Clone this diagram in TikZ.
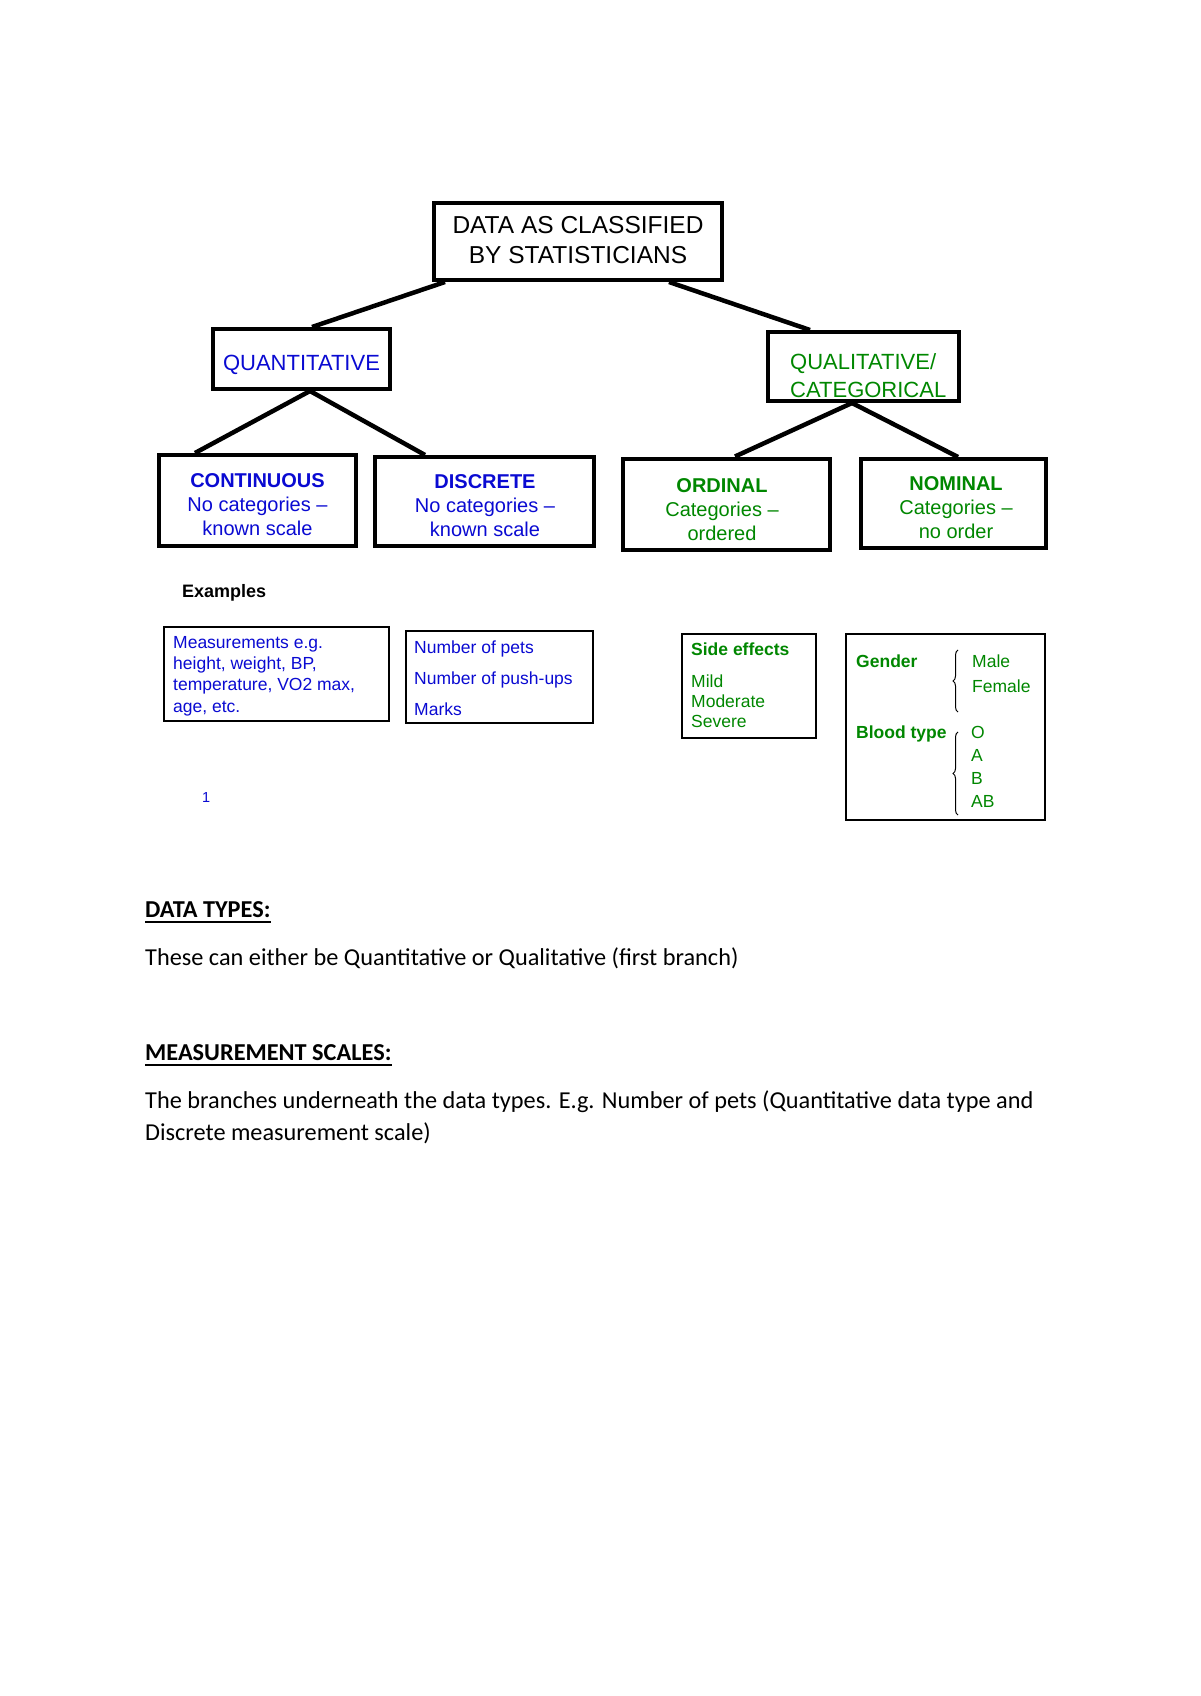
\documentclass[tikz,border=0pt]{standalone}
\usepackage{fontspec}
\setmainfont{Liberation Sans}
\newfontfamily\calibrifont{Carlito}
\usetikzlibrary{decorations.pathreplacing}
\definecolor{quantblue}{RGB}{10,10,210}
\definecolor{qualgreen}{RGB}{0,135,0}
\newcommand{\fsz}[2]{\fontsize{#1}{#2}\selectfont}

\begin{document}
\begin{tikzpicture}[x=1pt,y=-1pt,
  thickbox/.style={draw,line width=4pt,inner sep=0pt},
  thinbox/.style={draw,line width=1.3pt,inner sep=0pt},
  branch/.style={line width=4.5pt},
  txt/.style={inner sep=0pt,anchor=base,align=center},
  ltxt/.style={inner sep=0pt,anchor=base west,align=left}]
\useasboundingbox[fill=white] (0,0) rectangle (1200,1696);
% Top of the tree (multi-line texts sit on their last baseline)
\node[thickbox,minimum width=288pt,minimum height=77pt] (data) at (578,241.5) {};
\node[txt,font=\fsz{24.5}{31}] (datatxt) at (578,264) {DATA AS CLASSIFIED\\BY STATISTICIANS};
% Data types
\node[thickbox,minimum width=177pt,minimum height=60pt] (quant) at (301.5,359) {};
\node[txt,font=\fsz{22}{28},text=quantblue] (quanttxt) at (301.5,370) {QUANTITATIVE};
\node[thickbox,minimum width=191pt,minimum height=69pt] (qual) at (863.5,366.5) {};
\node[ltxt,font=\fsz{22}{28},text=qualgreen] (qualtxt) at (790,397) {QUALITATIVE/\\CATEGORICAL};
% Measurement scales
\node[thickbox,minimum width=197pt,minimum height=91pt] (cont) at (257.5,500.5) {};
\node[txt,font=\fsz{20}{24},text=quantblue] (conttxt) at (257.5,535) {\textbf{CONTINUOUS}\\No categories --\\known scale};
\node[thickbox,minimum width=219pt,minimum height=89pt] (disc) at (484.5,501.5) {};
\node[txt,font=\fsz{20}{24},text=quantblue] (disctxt) at (485,536) {\textbf{DISCRETE}\\No categories --\\known scale};
\node[thickbox,minimum width=207pt,minimum height=91pt] (ord) at (726,504) {};
\node[txt,font=\fsz{20}{24},text=qualgreen] (ordtxt) at (722,540) {\textbf{ORDINAL}\\Categories --\\ordered};
\node[thickbox,minimum width=185pt,minimum height=89pt] (nom) at (953.5,503.5) {};
\node[txt,font=\fsz{20}{24},text=qualgreen] (nomtxt) at (956,538) {\textbf{NOMINAL}\\Categories --\\no order};
% Branches
\draw[branch] ([xshift=13pt]data.south west) -- ([xshift=10.5pt]quant.north);
\draw[branch] ([xshift=-55pt]data.south east) -- ([xshift=44pt]qual.north west);
\draw[branch] ([xshift=8.5pt]quant.south) -- ([xshift=38pt]cont.north west);
\draw[branch] ([xshift=8.5pt]quant.south) -- ([xshift=52pt]disc.north west);
\draw[branch] ([xshift=-11.5pt]qual.south) -- ([xshift=114.5pt]ord.north west);
\draw[branch] ([xshift=-11.5pt]qual.south) -- ([xshift=99pt]nom.north west);
% Examples
\node[ltxt,font=\bfseries\fsz{18}{22}] (examples) at (182,597) {Examples};
\node[thinbox,minimum width=225pt,minimum height=94pt] (meas) at (276.5,674) {};
\node[ltxt,font=\fsz{17.5}{21.3},text=quantblue] (meastxt) at (173,712) {Measurements e.g.\\height, weight, BP,\\temperature, VO2 max,\\age, etc.};
\node[thinbox,minimum width=187pt,minimum height=92pt] (numb) at (499.5,677) {};
\node[ltxt,font=\fsz{17.5}{31},text=quantblue] (numbtxt) at (414,715) {Number of pets\\Number of push-ups\\Marks};
\node[thinbox,minimum width=134pt,minimum height=104pt] (side) at (749,686) {};
\node[ltxt,font=\bfseries\fsz{17.5}{20},text=qualgreen] (sidetxt) at (691,655) {Side effects};
\node[ltxt,font=\fsz{17.5}{20},text=qualgreen] (sidelist) at (691,727) {Mild\\Moderate\\Severe};
\node[thinbox,minimum width=199pt,minimum height=186pt] (blood) at (945.5,727) {};
\node[ltxt,font=\bfseries\fsz{17.5}{20},text=qualgreen] (gender) at (856,667) {Gender};
\node[ltxt,font=\fsz{17.5}{25},text=qualgreen] (genderlist) at (972,692) {Male\\Female};
\node[ltxt,font=\bfseries\fsz{17.5}{20},text=qualgreen] (btype) at (856,738) {Blood type};
\node[ltxt,font=\fsz{17.5}{23},text=qualgreen] (btypelist) at (971,807) {O\\A\\B\\AB};
\draw[decorate,decoration={brace,amplitude=5pt},line width=1pt] (958,712) -- (958,650);
\draw[decorate,decoration={brace,amplitude=5pt},line width=1pt] (958,815) -- (958,732);
\node[ltxt,font=\fsz{14.5}{17},text=quantblue] (pagenum) at (202,802) {1};
% Notes below
\node[ltxt,font=\calibrifont\bfseries\fsz{24.3}{32}] (dtypes) at (145,917) {DATA TYPES:};
\draw[line width=1.5pt] ([yshift=-5pt]dtypes.base west) -- ([yshift=-5pt]dtypes.base east);
\node[ltxt,font=\calibrifont\fsz{24.3}{32}] (dtypestxt) at (145,965) {These can either be Quantitative or Qualitative (first branch)};
\node[ltxt,font=\calibrifont\bfseries\fsz{24.3}{32}] (mscales) at (145,1060) {MEASUREMENT SCALES:};
\draw[line width=1.5pt] ([yshift=-5pt]mscales.base west) -- ([yshift=-5pt]mscales.base east);
\node[ltxt,font=\calibrifont\fsz{24.3}{32}] (mscalestxt) at (145,1140) {The branches underneath the data types. E.g. Number of pets (Quantitative data type and\\Discrete measurement scale)};
\end{tikzpicture}
\end{document}
